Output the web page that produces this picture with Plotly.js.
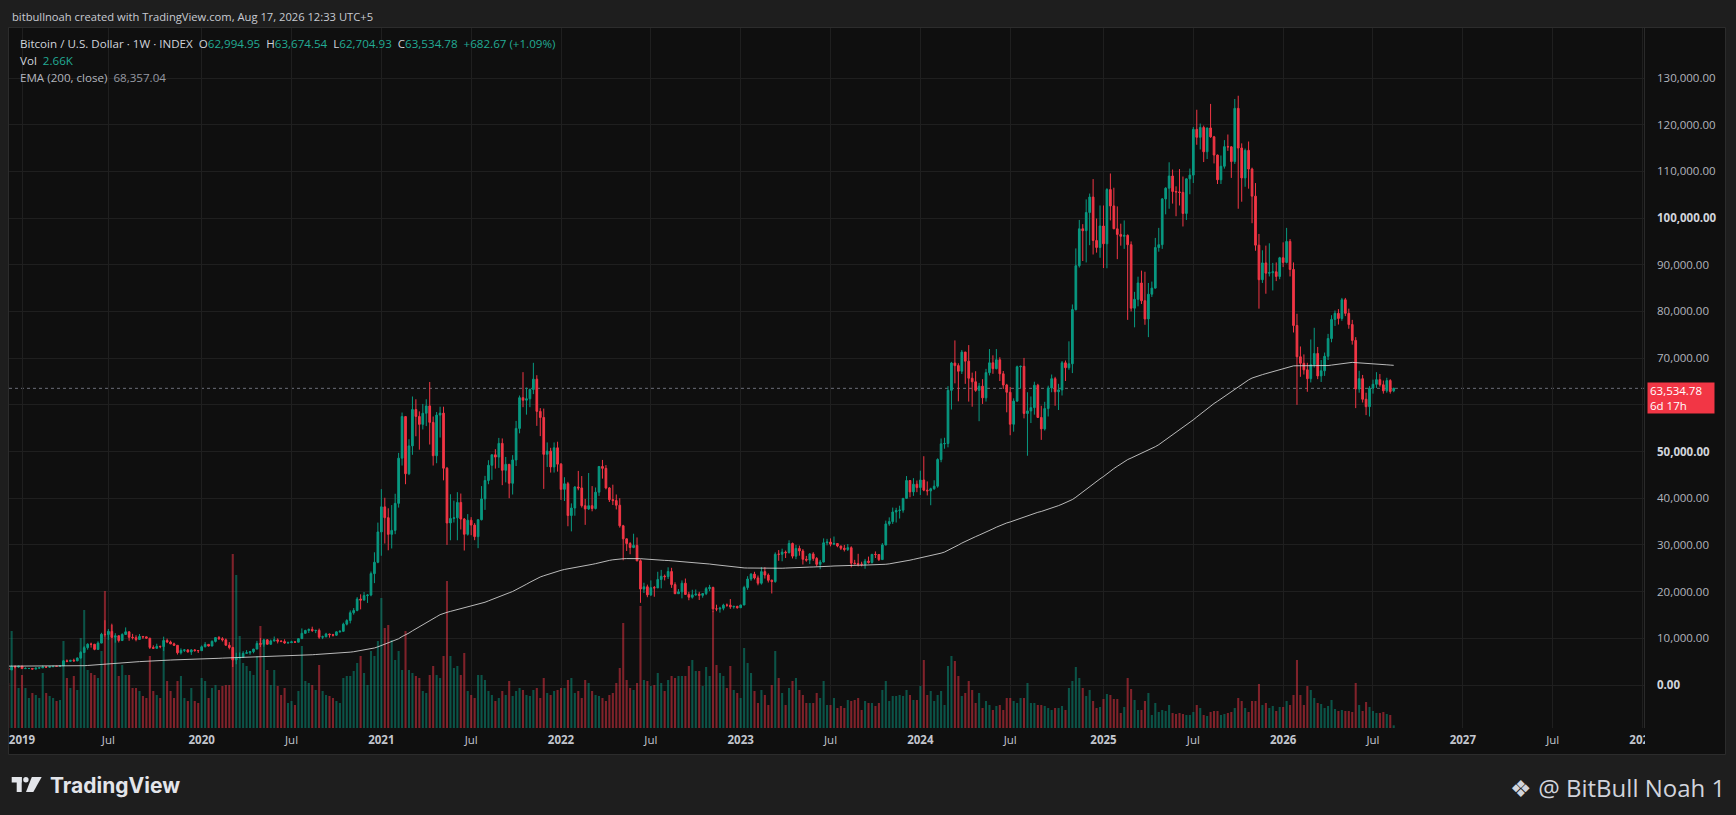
<!DOCTYPE html>
<html><head><meta charset="utf-8">
<script src="https://cdn.plot.ly/plotly-3.0.1.min.js"></script>
<style>html,body{margin:0;padding:0;background:#1e1e1e;overflow:hidden}#chart{width:1736px;height:815px}</style>
</head><body><div id="chart"></div>
<script>
// ---- data (prices in thousands of USD, weekly bars from 2018-12-10) ----
const firstWeek = '2018-12-10';
const opens = [
3.61,3.23,3.96,3.83,4.05,3.51,3.53,3.54,3.41,3.63,
3.67,3.86,3.82,3.92,4.01,3.99,4.10,5.17,5.07,5.29,
5.15,5.77,6.96,8.00,8.74,8.72,7.63,8.97,10.86,10.82,
11.48,10.21,10.54,9.53,10.82,11.39,10.22,10.14,9.76,10.40,
10.31,10.03,8.05,7.86,8.28,8.22,9.55,9.20,8.81,8.50,
6.90,7.42,7.51,7.08,7.51,7.39,7.35,8.18,8.70,8.34,
9.34,10.15,9.92,9.67,8.52,8.03,5.36,5.82,5.88,6.78,
6.91,7.13,7.69,8.90,8.72,9.67,8.72,9.45,9.66,9.39,
9.30,9.00,9.07,9.24,9.17,9.93,11.07,11.68,11.91,11.65,
11.70,10.25,10.33,10.92,10.77,10.67,11.38,11.50,13.03,13.80,
15.48,15.96,18.41,18.18,19.15,19.27,23.85,26.28,32.78,38.15,
35.83,32.26,33.11,38.90,48.58,57.49,45.24,51.21,59.00,57.52,
55.82,58.20,59.77,56.25,49.10,57.80,58.23,46.43,34.70,35.68,
35.80,39.10,35.55,32.28,35.29,34.25,31.78,35.40,39.86,43.80,
47.05,49.30,48.81,51.75,45.98,47.26,43.20,48.20,54.96,61.53,
61.00,61.30,63.30,65.50,58.60,57.30,49.40,50.10,46.70,50.80,
47.30,41.90,43.10,36.30,37.90,42.40,42.20,38.40,37.70,38.40,
37.80,41.30,46.80,46.40,42.20,39.70,39.50,38.50,34.10,31.30,
30.30,29.45,29.90,26.60,20.55,21.03,19.30,20.85,20.80,22.60,
23.30,23.20,24.30,21.50,19.55,19.95,21.80,19.40,18.80,19.30,
19.45,19.20,19.57,20.63,20.90,16.30,16.28,16.45,17.10,17.09,
16.75,16.84,16.55,17.13,20.88,22.70,23.75,22.93,21.80,24.28,
23.55,22.43,22.15,28.00,27.99,28.46,28.33,30.30,27.60,29.25,
28.70,26.92,26.75,28.07,27.10,25.84,26.34,30.46,30.60,30.17,
30.30,29.78,29.28,29.04,29.40,26.10,26.00,25.85,25.83,26.53,
26.25,27.98,27.95,26.86,29.99,34.50,35.00,37.05,37.37,37.45,
39.97,43.80,41.36,43.00,42.28,43.90,41.73,41.58,42.03,42.58,
48.30,51.65,51.73,63.10,68.95,68.40,67.20,71.30,69.36,65.70,
64.94,63.10,64.00,61.50,66.90,69.00,67.75,69.65,66.65,64.25,
62.70,55.85,60.80,68.15,68.25,58.15,58.70,59.40,64.20,57.30,
54.85,59.20,63.60,65.60,62.80,63.20,69.00,67.95,68.80,80.40,
89.80,97.70,97.30,101.20,104.50,95.20,93.70,98.30,94.50,106.10,
102.60,97.70,96.50,96.10,96.30,94.30,80.70,82.60,86.10,82.30,
78.40,83.70,85.00,93.70,94.30,104.10,106.40,109.00,105.70,105.60,
105.50,101.00,108.40,109.20,119.00,117.30,119.40,114.20,119.30,117.40,
113.50,108.20,111.10,115.30,115.25,112.10,123.50,115.00,108.60,114.50,
110.50,104.70,94.20,86.80,90.40,88.20,88.30,88.50,87.50,91.50,
90.50,95.00,89.00,77.00,70.30,68.90,67.50,65.60,68.60,71.00,
66.20,67.30,70.40,74.20,78.30,79.60,78.50,82.50,79.60,77.20,
73.80,63.40,65.60,61.20,59.60,63.60,64.40,65.40,64.30,63.00,
65.20,62.99495];
const highs = [
3.62,4.24,4.24,4.09,4.11,3.78,3.64,3.56,3.70,3.69,
4.20,3.90,3.95,4.05,4.09,4.13,5.35,5.47,5.35,5.64,
5.90,7.26,8.33,8.94,9.07,8.81,9.35,11.18,13.88,12.00,
13.13,11.10,10.65,11.08,12.33,11.45,10.95,10.64,10.92,10.45,
10.37,10.04,8.50,8.84,8.42,10.35,9.94,9.50,9.07,8.50,
7.85,7.70,7.65,7.69,7.69,7.50,8.47,9.19,8.77,9.57,
10.16,10.50,10.25,9.97,9.19,8.18,6.90,6.96,7.24,7.47,
7.29,7.74,9.46,10.07,9.92,9.84,9.74,10.38,9.98,9.62,
9.79,9.30,9.47,9.34,9.99,12.12,11.83,12.09,12.49,11.79,
12.09,10.58,11.18,10.99,10.95,11.49,11.72,13.35,14.09,15.97,
16.48,18.82,19.42,19.92,19.42,24.30,28.42,34.78,41.95,40.10,
37.85,38.53,40.96,49.71,58.35,57.53,52.64,61.79,61.20,58.60,
60.20,61.20,64.90,57.50,58.46,59.60,59.60,46.70,40.85,39.48,
41.30,41.00,35.75,36.60,35.95,34.67,35.45,42.60,44.79,48.14,
49.39,50.50,52.92,52.80,48.84,47.35,49.23,56.56,62.00,67.00,
63.70,63.50,69.00,66.35,59.30,59.20,51.95,50.80,51.95,52.10,
47.55,44.50,43.50,38.90,42.60,45.85,44.75,39.85,45.40,42.60,
42.30,46.90,48.20,47.10,42.40,42.90,40.80,40.00,34.30,31.40,
30.60,32.40,31.60,26.90,21.90,21.50,22.40,21.20,24.25,24.65,
23.65,25.20,25.10,22.00,20.55,22.40,22.80,19.95,20.40,20.45,
19.95,19.70,21.00,21.45,21.05,17.20,16.75,17.40,17.45,18.40,
16.95,16.97,17.20,21.25,23.30,23.95,24.25,23.45,25.25,25.25,
23.90,22.60,28.40,28.90,29.20,28.80,31.00,30.50,30.00,29.85,
29.10,27.65,28.25,28.45,27.40,26.80,31.40,31.30,31.40,31.80,
30.40,29.80,30.00,30.20,29.70,26.80,28.10,26.40,27.00,27.50,
28.00,28.60,28.00,30.40,35.20,35.90,38.00,37.95,38.40,40.00,
44.75,43.90,44.30,43.80,45.90,49.00,43.60,42.25,43.85,48.55,
52.80,52.95,64.00,69.20,73.80,68.90,71.75,71.35,72.80,66.90,
67.20,64.70,65.50,67.70,71.95,70.60,71.95,70.20,67.25,64.50,
63.80,61.40,68.40,68.40,70.05,62.70,61.80,64.95,64.50,59.80,
60.65,64.10,66.50,66.00,64.50,69.40,69.50,73.60,81.50,93.50,
99.60,98.70,104.00,105.25,108.35,99.90,102.70,102.70,106.40,109.55,
106.50,102.50,98.80,99.50,96.50,95.00,84.20,87.45,88.75,88.50,
86.10,86.40,95.75,97.90,104.30,106.60,111.95,110.40,106.80,110.50,
108.90,108.50,110.60,119.50,123.20,120.25,119.80,119.35,124.45,117.60,
113.60,113.40,116.70,117.90,115.40,125.50,126.20,116.00,114.90,116.40,
110.80,107.50,96.60,93.10,94.10,94.60,90.40,90.50,91.70,94.80,
97.90,95.50,90.50,79.50,72.50,70.80,69.00,74.00,76.50,72.40,
69.60,71.20,75.20,79.20,80.20,80.50,82.90,82.90,80.60,78.20,
74.50,67.30,66.40,62.60,64.00,65.40,67.00,66.60,65.20,65.80,
65.50,63.67454];
const lows = [
3.17,3.19,3.55,3.63,3.48,3.47,3.44,3.36,3.37,3.57,
3.65,3.70,3.70,3.83,3.91,3.93,4.09,4.87,5.00,5.03,
5.13,5.66,6.95,7.57,8.01,7.45,7.52,8.95,10.36,9.67,
10.10,9.07,9.11,9.40,10.80,9.47,9.75,9.35,9.74,9.88,
9.90,7.71,7.73,7.78,7.87,7.30,8.97,8.75,8.37,6.52,
6.53,7.07,6.97,6.44,7.11,6.85,7.33,8.08,8.25,8.29,
9.12,9.65,9.30,8.45,7.63,3.85,4.44,5.67,5.86,6.77,
6.48,6.80,7.66,8.13,8.20,8.70,8.63,9.28,8.90,9.24,
8.83,8.89,9.05,9.06,9.12,9.91,10.94,11.13,11.37,11.11,
9.88,9.83,10.21,10.14,10.38,10.53,11.22,11.42,12.76,13.20,
15.07,15.78,16.20,18.10,17.58,19.00,21.82,26.08,27.68,30.30,
28.85,29.24,32.30,38.00,47.00,43.00,44.95,49.30,53.27,50.40,
54.73,55.45,51.50,47.00,47.50,53.00,43.83,30.00,31.00,34.80,
31.00,33.30,28.80,32.00,32.08,31.02,29.30,35.25,37.50,43.00,
43.95,46.35,46.50,42.80,43.40,40.00,40.80,46.90,53.90,59.50,
57.90,59.50,62.30,55.50,53.30,42.00,46.70,45.50,45.50,45.70,
39.65,39.40,34.00,32.90,36.25,41.70,38.00,34.30,37.50,37.20,
37.60,40.50,44.20,41.90,39.20,38.55,37.60,33.70,26.70,28.70,
28.00,29.30,26.50,17.60,19.70,18.80,19.05,18.90,20.75,20.70,
22.40,22.70,20.80,19.50,19.50,18.55,19.30,18.15,18.50,19.10,
18.20,18.70,19.25,20.10,15.60,15.80,15.50,16.00,16.75,16.30,
16.35,16.35,16.50,17.10,20.40,22.30,22.60,21.35,21.50,22.80,
21.95,19.60,21.90,26.60,26.50,27.20,28.20,27.10,26.95,27.70,
25.80,26.40,25.90,26.60,25.40,24.80,26.25,29.90,29.70,29.95,
29.50,28.90,28.60,28.70,25.20,25.80,25.40,25.40,24.90,26.00,
26.00,27.20,26.55,26.80,29.90,34.10,34.50,34.80,35.65,36.90,
39.90,40.20,40.50,41.30,40.70,41.50,40.60,38.50,41.80,42.25,
47.70,50.60,50.90,59.00,64.60,60.75,66.60,64.50,60.70,59.60,
62.80,56.50,60.20,60.70,66.30,66.65,67.60,65.10,63.40,58.40,
53.50,54.25,60.65,63.45,57.10,49.10,56.10,57.90,57.20,52.50,
54.50,57.50,62.70,59.80,58.90,62.00,65.10,67.50,66.80,80.20,
89.40,90.80,90.50,94.20,92.20,92.60,91.50,89.30,89.25,99.50,
97.80,91.20,94.10,93.40,78.20,80.00,76.60,81.10,81.60,77.15,
74.50,83.10,84.90,92.80,93.40,100.80,102.00,103.10,100.40,102.70,
98.20,99.60,105.10,107.50,115.70,114.70,112.00,112.65,117.20,111.70,
107.30,107.30,110.60,114.40,108.60,111.60,102.00,103.50,106.70,106.30,
98.90,93.00,80.60,86.10,83.80,87.50,84.50,86.50,86.90,89.50,
90.30,87.50,75.50,60.00,66.00,66.50,62.80,64.80,68.00,65.50,
64.90,66.20,69.60,73.40,76.90,77.20,78.00,79.00,76.30,72.90,
59.30,62.60,60.50,57.80,57.50,62.40,63.60,63.90,62.40,62.60,
62.40,62.70493];
const closes = [
3.23,3.96,3.83,4.05,3.51,3.53,3.54,3.41,3.63,3.67,
3.86,3.82,3.92,4.01,3.99,4.10,5.17,5.07,5.29,5.15,
5.77,6.96,8.00,8.74,8.72,7.63,8.97,10.86,10.82,11.48,
10.21,10.54,9.53,10.82,11.39,10.22,10.14,9.76,10.40,10.31,
10.03,8.05,7.86,8.28,8.22,9.55,9.20,8.81,8.50,6.90,
7.42,7.51,7.08,7.51,7.39,7.35,8.18,8.70,8.34,9.34,
10.15,9.92,9.67,8.52,8.03,5.36,5.82,5.88,6.78,6.91,
7.13,7.69,8.90,8.72,9.67,8.72,9.45,9.66,9.39,9.30,
9.00,9.07,9.24,9.17,9.93,11.07,11.68,11.91,11.65,11.70,
10.25,10.33,10.92,10.77,10.67,11.38,11.50,13.03,13.80,15.48,
15.96,18.41,18.18,19.15,19.27,23.85,26.28,32.78,38.15,35.83,
32.26,33.11,38.90,48.58,57.49,45.24,51.21,59.00,57.52,55.82,
58.20,59.77,56.25,49.10,57.80,58.23,46.43,34.70,35.68,35.80,
39.10,35.55,32.28,35.29,34.25,31.78,35.40,39.86,43.80,47.05,
49.30,48.81,51.75,45.98,47.26,43.20,48.20,54.96,61.53,61.00,
61.30,63.30,65.50,58.60,57.30,49.40,50.10,46.70,50.80,47.30,
41.90,43.10,36.30,37.90,42.40,42.20,38.40,37.70,38.40,37.80,
41.30,46.80,46.40,42.20,39.70,39.50,38.50,34.10,31.30,30.30,
29.45,29.90,26.60,20.55,21.03,19.30,20.85,20.80,22.60,23.30,
23.20,24.30,21.50,19.55,19.95,21.80,19.40,18.80,19.30,19.45,
19.20,19.57,20.63,20.90,16.30,16.28,16.45,17.10,17.09,16.75,
16.84,16.55,17.13,20.88,22.70,23.75,22.93,21.80,24.28,23.55,
22.43,22.15,28.00,27.99,28.46,28.33,30.30,27.60,29.25,28.70,
26.92,26.75,28.07,27.10,25.84,26.34,30.46,30.60,30.17,30.30,
29.78,29.28,29.04,29.40,26.10,26.00,25.85,25.83,26.53,26.25,
27.98,27.95,26.86,29.99,34.50,35.00,37.05,37.37,37.45,39.97,
43.80,41.36,43.00,42.28,43.90,41.73,41.58,42.03,42.58,48.30,
51.65,51.73,63.10,68.95,68.40,67.20,71.30,69.36,65.70,64.94,
63.10,64.00,61.50,66.90,69.00,67.75,69.65,66.65,64.25,62.70,
55.85,60.80,68.15,68.25,58.15,58.70,59.40,64.20,57.30,54.85,
59.20,63.60,65.60,62.80,63.20,69.00,67.95,68.80,80.40,89.80,
97.70,97.30,101.20,104.50,95.20,93.70,98.30,94.50,106.10,102.60,
97.70,96.50,96.10,96.30,94.30,80.70,82.60,86.10,82.30,78.40,
83.70,85.00,93.70,94.30,104.10,106.40,109.00,105.70,105.60,105.50,
101.00,108.40,109.20,119.00,117.30,119.40,114.20,119.30,117.40,113.50,
108.20,111.10,115.30,115.25,112.10,123.50,115.00,108.60,114.50,110.50,
104.70,94.20,86.80,90.40,88.20,88.30,88.50,87.50,91.50,90.50,
95.00,89.00,77.00,70.30,68.90,67.50,65.60,68.60,71.00,66.20,
67.30,70.40,74.20,78.30,79.60,78.50,82.50,79.60,77.20,73.80,
63.40,65.60,61.20,59.60,63.60,64.40,65.40,64.30,63.00,65.20,
62.85211,63.53478];
// weekly volume (K)
const volumes = [
45,97,62,40,53,40,30,35,33,30, 55,35,32,30,27,28,87,50,40,52,
38,90,118,58,55,53,50,77,137,97, 103,90,52,63,53,53,40,40,37,32,
30,72,37,33,30,87,47,37,30,47, 52,30,27,40,27,25,50,47,30,40,
43,38,42,43,43,174,153,92,65,62, 57,53,72,102,87,58,43,58,42,33,
40,25,27,23,37,82,47,45,43,38, 63,37,33,32,30,27,25,50,52,52,
57,65,72,55,43,77,72,87,130,100, 103,88,68,77,58,97,58,55,52,50,
37,35,53,62,53,50,72,147,72,60, 62,53,75,37,33,30,53,53,48,37,
33,27,30,37,33,47,32,37,40,38, 33,32,38,40,30,50,35,33,37,38,
40,40,48,50,35,37,30,48,45,37, 33,32,30,27,33,35,45,60,105,48,
40,38,45,122,48,47,42,43,55,45, 37,48,52,50,52,52,52,62,68,57,
57,42,61,52,117,63,55,52,40,62, 38,35,30,80,65,55,37,25,38,33,
23,43,77,50,35,23,40,47,50,38, 33,25,25,25,35,30,47,23,23,30,
20,22,20,28,27,28,30,18,27,25, 25,22,25,38,47,27,32,32,33,32,
38,33,28,28,42,68,33,37,27,33, 37,23,62,72,67,52,32,35,47,38,
25,35,20,27,23,18,22,23,18,30, 30,27,25,30,30,45,25,25,23,23,
22,20,18,20,20,22,18,40,47,61, 50,40,32,38,27,20,21,29,34,33,
29,29,15,21,50,39,28,18,18,27, 35,13,25,16,18,17,23,15,14,15,
14,13,13,16,23,20,13,12,16,17, 17,13,14,15,16,20,30,27,20,16,
27,27,44,23,25,20,22,17,21,21, 27,23,33,68,33,23,42,38,30,25,
24,20,22,28,19,17,18,17,17,16, 45,23,17,26,21,17,15,15,16,14,
13,2.66];
const emaSeed = 4.05;            // EMA(200) level at the left edge
const emaLegendValue = '68,357.04';
const countdownText = '6d 17h';
const headerText = 'bitbullnoah created with TradingView.com, Aug 17, 2026 12:33 UTC+5';
const symbolText = 'Bitcoin / U.S. Dollar · 1W · INDEX';
const timeTickDates = ['2019-01-07','2019-07-01','2020-01-06','2020-07-06','2021-01-04','2021-07-05',
  '2022-01-03','2022-07-04','2023-01-02','2023-07-03','2024-01-01','2024-07-01','2025-01-06','2025-07-07',
  '2026-01-05','2026-07-06','2027-01-04','2027-07-05','2028-01-03'];
const timeTickLabels = ['2019','Jul','2020','Jul','2021','Jul','2022','Jul','2023','Jul','2024','Jul',
  '2025','Jul','2026','Jul','2027','Jul','2028'];
const priceTicks = [0,10000,20000,30000,40000,50000,60000,70000,80000,90000,100000,110000,120000,130000];

// ---- build ----
const W = 1736, H = 815;
const paneL = 9, paneR = 1644, paneT = 28, paneB = 728;
// paper coordinates are relative to the plot area
const xp = v => (v - paneL) / (paneR - paneL), yp = v => (paneB - v) / (paneB - paneT);
const UP = '#089981', DN = '#f23645';
const DAY = 864e5;
const fmtDate = ms => new Date(ms).toISOString().replace('T',' ').slice(0,19);
const t0 = Date.parse(firstWeek + 'T00:00:00Z');
const dates = closes.map((_, i) => fmtDate(t0 + i * 7 * DAY));
const k = v => v * 1000;
const O = opens.map(k), Hh = highs.map(k), L = lows.map(k), C = closes.map(k);

const ema = []; let e = emaSeed; const alpha = 2 / 201;
closes.forEach(c => { e = e + alpha * (c - e); ema.push(e * 1000); });

const volColors = C.map((c, i) => c >= O[i] ? 'rgba(8,153,129,0.5)' : 'rgba(242,54,69,0.5)');

// x range so that 2019-01-07 bar sits at x=22px
const pxPerDay = 0.4936, anchor = Date.parse('2019-01-07T00:00:00Z'), anchorPx = 22;
const xr = [fmtDate(anchor - (anchorPx - paneL) / pxPerDay * DAY), fmtDate(anchor + (paneR - anchorPx) / pxPerDay * DAY)];
// y range from tick pixel positions (0 at 685px, 130k at 78px)
const pxPer10k = (685 - 78) / 13;
const yr = [-(paneB - 685) / pxPer10k * 10000, 130000 + (78 - paneT) / pxPer10k * 10000];

const fmt = v => v.toLocaleString('en-US', {minimumFractionDigits: 2, maximumFractionDigits: 2});
const n = C.length - 1;
const chg = C[n] - C[n - 1], pct = chg / C[n - 1] * 100;
const tc = s => '<span style="color:#22ab94">' + s + '</span>';
const sp = '\u00a0\u00a0';
const line1 = symbolText + sp + 'O' + tc(fmt(O[n])) + sp + 'H' + tc(fmt(Hh[n])) + sp + 'L' + tc(fmt(L[n])) + sp +
  'C' + tc(fmt(C[n])) + sp + tc((chg >= 0 ? '+' : '') + fmt(chg) + ' (' + (pct >= 0 ? '+' : '') + pct.toFixed(2) + '%)');
const line2 = 'Vol' + sp + tc(volumes[n].toFixed(2) + 'K');
const line3 = 'EMA (200, close)' + sp + '<span style="color:#9598a1">' + emaLegendValue + '</span>';

const traces = [
  {type: 'bar', x: dates, y: volumes, yaxis: 'y', xaxis: 'x', marker: {color: volColors, line: {width: 0}},
   width: 7 * DAY * 0.6, hoverinfo: 'skip', showlegend: false},
  {type: 'candlestick', x: dates, open: O, high: Hh, low: L, close: C, yaxis: 'y2', xaxis: 'x',
   increasing: {line: {color: UP, width: 1}, fillcolor: UP},
   decreasing: {line: {color: DN, width: 1}, fillcolor: DN},
   whiskerwidth: 0, hoverinfo: 'skip', showlegend: false},
  {type: 'scatter', mode: 'lines', x: dates, y: ema, yaxis: 'y2', xaxis: 'x',
   line: {color: 'rgba(215,215,215,0.85)', width: 1}, hoverinfo: 'skip', showlegend: false}
];

const ann = (x, y, text, opt) => Object.assign({xref: 'paper', yref: 'paper', x: xp(x), y: yp(y), text: text,
  showarrow: false, xanchor: 'left', yanchor: 'middle', font: {family: 'Open Sans', size: 11.6, color: '#d1d4dc'}}, opt || {});
const fill = '#e3e5ea';
const box = (x0, x1, y0, y1, shp) => ({type: shp || 'rect', xref: 'paper', yref: 'paper', x0: xp(x0), x1: xp(x1),
  y0: yp(y1), y1: yp(y0), fillcolor: fill, line: {width: 0}, layer: 'above'});

const layout = {
  width: W, height: H,
  paper_bgcolor: '#1e1e1e', plot_bgcolor: '#0f0f0f',
  margin: {l: paneL, r: W - paneR, t: paneT, b: H - paneB, pad: 0},
  font: {family: 'Open Sans', color: '#b2b5be'},
  showlegend: false, hovermode: false, bargap: 0.3,
  xaxis: {type: 'date', range: xr, rangeslider: {visible: false}, tickmode: 'array',
    tickvals: timeTickDates, ticktext: timeTickLabels.map(s => s === 'Jul' ? s : '<b>' + s + '</b>'),
    showgrid: true, gridcolor: '#1f1f1f', gridwidth: 1, zeroline: false, showline: false, ticks: '',
    tickfont: {family: 'Open Sans', size: 11.5, color: '#c3c6ce'}, ticklabelstandoff: 3, fixedrange: true},
  yaxis: {range: [0, paneB - paneT], visible: false, showgrid: false, zeroline: false, fixedrange: true},
  yaxis2: {overlaying: 'y', side: 'right', range: yr, tickmode: 'array', tickvals: priceTicks,
    // the 60,000.00 label sits under the last-price tag, as in the original
    ticktext: priceTicks.map(v => { const s = fmt(v); if (Math.abs(v - C[n]) < 6000) return ''; return (v % 50000 === 0) ? '<b><span style="color:#d1d4dc">' + s + '</span></b>' : s; }),
    showgrid: true, gridcolor: '#1f1f1f', zeroline: false, showline: false, ticks: '',
    tickfont: {family: 'Open Sans', size: 11.5, color: '#b2b5be'}, ticklabelstandoff: 12, fixedrange: true},
  shapes: [
    {type: 'rect', xref: 'paper', yref: 'paper', x0: xp(8.5), x1: xp(1725.5), y0: yp(754.5), y1: yp(27.5),
     fillcolor: '#0f0f0f', line: {color: '#2c2c2c', width: 1}, layer: 'below'},
    {type: 'line', xref: 'paper', yref: 'y2', x0: 0, x1: 1, y0: C[n], y1: C[n],
     line: {color: '#6a6d78', width: 1, dash: 'dot'}, layer: 'below'},
    {type: 'rect', xref: 'paper', yref: 'paper', x0: xp(1645), x1: xp(1725), y0: yp(754), y1: yp(729),
     fillcolor: '#0f0f0f', line: {width: 0}, layer: 'above'},
    {type: 'line', xref: 'paper', yref: 'paper', x0: xp(1644.5), x1: xp(1644.5), y0: 0, y1: 1,
     line: {color: '#2a2a2a', width: 1}, layer: 'above'},
    // TradingView logo
    box(11.7, 21.7, 777, 782.5),
    box(16.7, 21.7, 777, 792),
    box(23.2, 28.6, 777, 782.4, 'circle'),
    {type: 'path', xref: 'paper', yref: 'paper',
     path: 'M ' + xp(26) + ' ' + yp(792) + ' L ' + xp(33.3) + ' ' + yp(792) + ' L ' + xp(41.7) + ' ' + yp(777) + ' L ' + xp(31.8) + ' ' + yp(777) + ' Z',
     fillcolor: fill, line: {width: 0}, layer: 'above'}
  ],
  annotations: [
    ann(10, 16, headerText, {font: {family: 'Open Sans', size: 11.2, color: '#c8cbd2'}}),
    ann(18, 43, line1),
    ann(18, 60.5, line2),
    ann(18, 77.5, line3, {font: {family: 'Open Sans', size: 11.6, color: '#b2b5be'}}),
    {xref: 'paper', yref: 'paper', x: xp(1647), y: yp(382), xanchor: 'left', yanchor: 'top', showarrow: false,
     text: fmt(C[n]) + '<br>' + countdownText, align: 'left', bgcolor: DN, borderpad: 2, width: 62, height: 26,
     font: {family: 'Open Sans', size: 11.5, color: '#ffffff'}},
    ann(48, 785, '<b>TradingView</b>', {font: {family: 'Inter', size: 21, color: fill}}),
    {xref: 'paper', yref: 'paper', x: xp(1727), y: yp(787), xanchor: 'right', yanchor: 'middle', showarrow: false,
     text: '\u2756 @ BitBull Noah 1', font: {family: 'Open Sans', size: 24, color: '#d1d4dc'}}
  ]
};

Plotly.newPlot('chart', traces, layout, {staticPlot: true, displayModeBar: false});
</script>
</body></html>
